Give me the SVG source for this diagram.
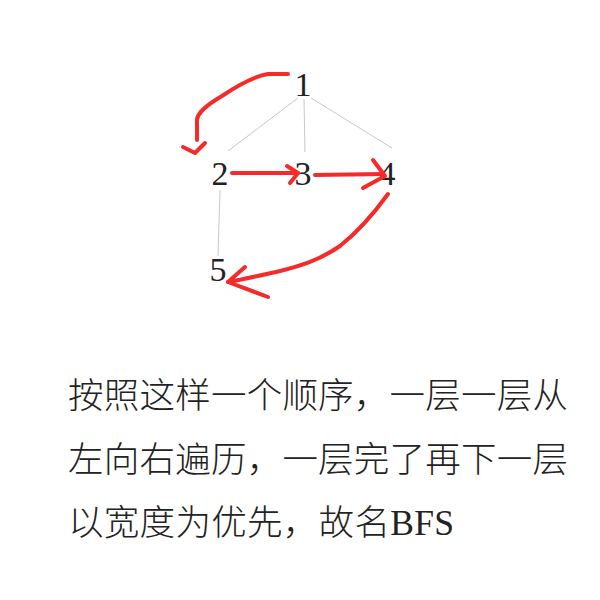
<svg xmlns="http://www.w3.org/2000/svg" width="600" height="600" viewBox="0 0 600 600">
<style>
.num{font-family:"Liberation Serif","DejaVu Serif",serif;font-size:34px;fill:#222;text-anchor:middle}
.edge{stroke:#c8c8c8;stroke-width:1;fill:none}
.red{stroke:#f52a2a;stroke-width:4;fill:none;stroke-linecap:round;stroke-linejoin:round}
.txt{font-family:"Liberation Serif","Noto Sans CJK SC",serif;font-size:35.5px;fill:#222;font-weight:300}
</style>
<rect width="600" height="600" fill="#fff"/>
<g id="connectors">
<line class="edge" x1="298" y1="98" x2="228" y2="151"/>
<line class="edge" x1="304" y1="99" x2="305" y2="152"/>
<line class="edge" x1="311" y1="98" x2="392" y2="148"/>
<line class="edge" x1="220" y1="190" x2="218" y2="256"/>
</g>
<g id="node1"><text class="num" x="303" y="96">1</text></g>
<g id="node2"><text class="num" x="220" y="185">2</text></g>
<g id="node3"><text class="num" x="303" y="185">3</text></g>
<g id="node4"><text class="num" x="387" y="185">4</text></g>
<g id="node5"><text class="num" x="218" y="281">5</text></g>
<g id="red-arrows">
<path class="red" d="M288,74 L268,74 C255,76 240,84 222,96 C205,106 196,114 197,122 L197,140"/>
<path class="red" d="M183,147 L195,153 L205,143"/>
<path class="red" d="M232,173 L298,173"/>
<path class="red" d="M287,166 L298,173 L290,183"/>
<path class="red" d="M315,175 L383,174"/>
<path class="red" d="M373,160 L385,176 L363,188"/>
<path class="red" d="M388,194 C375,212 360,230 340,246 C320,260 300,266 280,271 C262,275 245,279 228,282"/>
<path class="red" d="M245,267 L228,282 L268,297"/>
</g>
<g id="caption">
<text class="txt" x="68" y="408" textLength="500" lengthAdjust="spacing">按照这样一个顺序，一层一层从</text>
<text class="txt" x="68" y="472" textLength="500" lengthAdjust="spacing">左向右遍历，一层完了再下一层</text>
<text class="txt" x="68" y="535" letter-spacing="0.3">以宽度为优先，故名<tspan font-family="Liberation Serif,serif">BFS</tspan></text>
</g>
</svg>
